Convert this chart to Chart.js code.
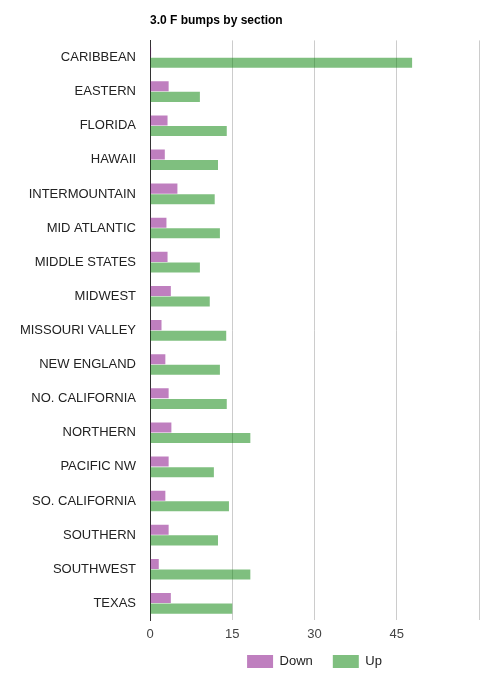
<!DOCTYPE html>
<html>
<head>
<meta charset="utf-8">
<script src="https://cdn.jsdelivr.net/npm/chart.js@4/dist/chart.umd.min.js"></script>
<style>
  html, body { margin: 0; padding: 0; background: #fff; }
  #wrap { width: 480px; height: 680px; }
</style>
</head>
<body>
<div id="wrap"><canvas id="bumpsChart" width="480" height="680"></canvas></div>
<script>
const sections = ['CARIBBEAN', 'EASTERN', 'FLORIDA', 'HAWAII', 'INTERMOUNTAIN', 'MID ATLANTIC',
    'MIDDLE STATES', 'MIDWEST', 'MISSOURI VALLEY', 'NEW ENGLAND', 'NO. CALIFORNIA', 'NORTHERN',
    'PACIFIC NW', 'SO. CALIFORNIA', 'SOUTHERN', 'SOUTHWEST', 'TEXAS'];
const downValues = [0.2, 3.4, 3.2, 2.7, 5.0, 3.0, 3.2, 3.8, 2.1, 2.8, 3.4, 3.9, 3.4, 2.8, 3.4, 1.6, 3.8];
const upValues = [47.8, 9.1, 14.0, 12.4, 11.8, 12.75, 9.1, 10.9, 13.9, 12.75, 14.0, 18.3, 11.65, 14.4, 12.4, 18.3, 15.0];
const xTicks = [0, 15, 30, 45, 60];

const fontFamily = '"Liberation Sans", Arial, sans-serif';

// legend sits closer to the axis than chart.js would put it
const LEGEND_SHIFT = 13;
const legendNudge = {
    id: 'legendNudge',
    beforeUpdate(chart) {
        const lg = chart.legend;
        if (lg && !lg._nudged) {
            const fit = lg.fit;
            lg.fit = function () {
                fit.call(this);
                this.height -= LEGEND_SHIFT;
            };
            lg._nudged = true;
        }
    },
    afterLayout(chart) {
        if (chart.legend) {
            chart.legend.top -= LEGEND_SHIFT;
        }
    }
};

const ctx = document.getElementById('bumpsChart').getContext('2d');

new Chart(ctx, {
    type: 'bar',
    data: {
        labels: sections,
        datasets: [{
            label: 'Down',
            data: downValues,
            backgroundColor: 'rgba(128, 0, 128, 0.5)',
            borderWidth: 0,
            categoryPercentage: 0.62,
            barPercentage: 0.95
        }, {
            label: 'Up',
            data: upValues,
            backgroundColor: 'rgba(0, 128, 0, 0.5)',
            borderWidth: 0,
            categoryPercentage: 0.62,
            barPercentage: 0.95
        }]
    },
    plugins: [legendNudge],
    options: {
        indexAxis: 'y',
        responsive: false,
        animation: false,
        layout: { padding: { left: 0, right: 1, top: 0, bottom: 2 } },
        plugins: {
            title: {
                display: true,
                text: '3.0 F bumps by section',
                align: 'start',
                fullSize: false,
                color: '#000',
                font: { family: fontFamily, size: 12, weight: 'bold' },
                padding: { top: 13, bottom: 13 }
            },
            legend: {
                position: 'bottom',
                fullSize: false,
                labels: {
                    boxWidth: 26,
                    boxHeight: 13,
                    padding: 20,
                    color: '#222',
                    font: { family: fontFamily, size: 13 }
                }
            },
            tooltip: { enabled: false }
        },
        scales: {
            x: {
                min: 0,
                max: 60,
                afterBuildTicks: (scale) => {
                    scale.ticks = xTicks.map(v => ({ value: v }));
                },
                afterFit: (scale) => { scale.paddingRight = 0; },
                grid: {
                    color: '#cccccc',
                    drawTicks: false
                },
                border: { display: false },
                ticks: {
                    color: '#444',
                    padding: 6,
                    font: { family: fontFamily, size: 13 },
                    callback: (val) => (val === 60 ? '' : val)
                }
            },
            y: {
                afterFit: (scale) => { scale.width = 150; },
                grid: { display: false, drawTicks: false },
                border: { display: true, color: '#333', width: 1 },
                ticks: {
                    color: '#222',
                    padding: 14,
                    autoSkip: false,
                    font: { family: fontFamily, size: 13 }
                }
            }
        }
    }
});
</script>
</body>
</html>
